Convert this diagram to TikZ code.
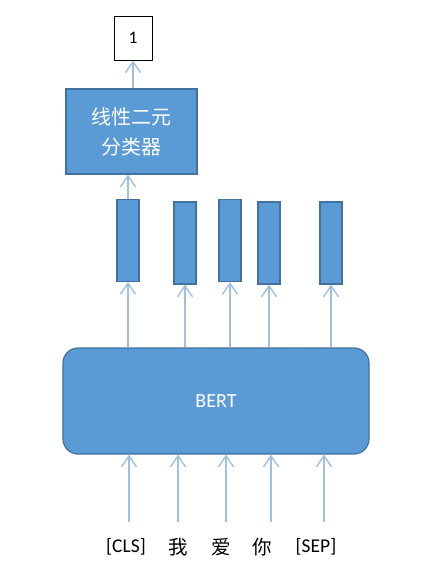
\documentclass[tikz,border=0pt]{standalone}
\usepackage{fontspec}
\setmainfont{Carlito}
\newfontfamily\cjk{Noto Sans CJK SC}
\usetikzlibrary{arrows.meta}

\definecolor{boxfill}{HTML}{5B9BD5}
\definecolor{boxline}{HTML}{41719C}
\definecolor{arrowline}{HTML}{9FC0E0}

\begin{document}
\begin{tikzpicture}[x=1pt, y=-1pt,
        bluebox/.style={draw=boxline, fill=boxfill, line width=1.2pt, text=white, inner sep=0pt},
        vecbox/.style={bluebox, minimum width=22pt, minimum height=82pt},
        uparrow/.style={draw=arrowline, line width=1.4pt, -{Straight Barb[length=11pt, width=15pt]}},
        word/.style={font=\fontsize{19.5}{22}\selectfont, inner sep=0pt}]
        \useasboundingbox (0, 0) rectangle (441, 585);

        \node[draw, line width=0.9pt, minimum width=38pt, minimum height=44pt, inner sep=0pt,
              font=\fontsize{17.5}{20}\selectfont] (out) at (133, 38) {1};
        \node[bluebox, minimum width=131pt, minimum height=85pt, align=center,
              font=\cjk\fontsize{20}{30}\selectfont] (cls) at (131.5, 131.5) {线性二元\\分类器};

        \node[vecbox] (v1) at (128, 240.5) {};
        \node[vecbox] (v2) at (185, 243)   {};
        \node[vecbox] (v3) at (230, 240.5) {};
        \node[vecbox] (v4) at (269, 243)   {};
        \node[vecbox] (v5) at (331, 243)   {};

        \node[bluebox, rounded corners=15pt, minimum width=306pt, minimum height=106pt,
              font=\fontsize{20}{22}\selectfont] (bert) at (216, 401) {BERT};

        \node[word] (w1) at (126, 547) {[CLS]};
        \node[word] (w2) at (178, 547) {\cjk 我};
        \node[word] (w3) at (221, 547) {\cjk 爱};
        \node[word] (w4) at (262, 547) {\cjk 你};
        \node[word] (w5) at (316, 547) {[SEP]};

        \coordinate (in1) at (129, 522);
        \coordinate (in2) at (178, 522);
        \coordinate (in3) at (226, 522);
        \coordinate (in4) at (271, 522);
        \coordinate (in5) at (324, 522);

        \draw [uparrow] (in1) -- (in1 |- bert.south);
        \draw [uparrow] (in2) -- (in2 |- bert.south);
        \draw [uparrow] (in3) -- (in3 |- bert.south);
        \draw [uparrow] (in4) -- (in4 |- bert.south);
        \draw [uparrow] (in5) -- (in5 |- bert.south);

        \draw [uparrow] (v1 |- bert.north) -- (v1.south);
        \draw [uparrow] (v2 |- bert.north) -- (v2.south);
        \draw [uparrow] (v3 |- bert.north) -- (v3.south);
        \draw [uparrow] (v4 |- bert.north) -- (v4.south);
        \draw [uparrow] (v5 |- bert.north) -- (v5.south);

        \draw [uparrow] (v1.north) -- (v1 |- cls.south);
        \draw [uparrow] (cls.north -| out) -- (out.south);
    \end{tikzpicture}
\end{document}
